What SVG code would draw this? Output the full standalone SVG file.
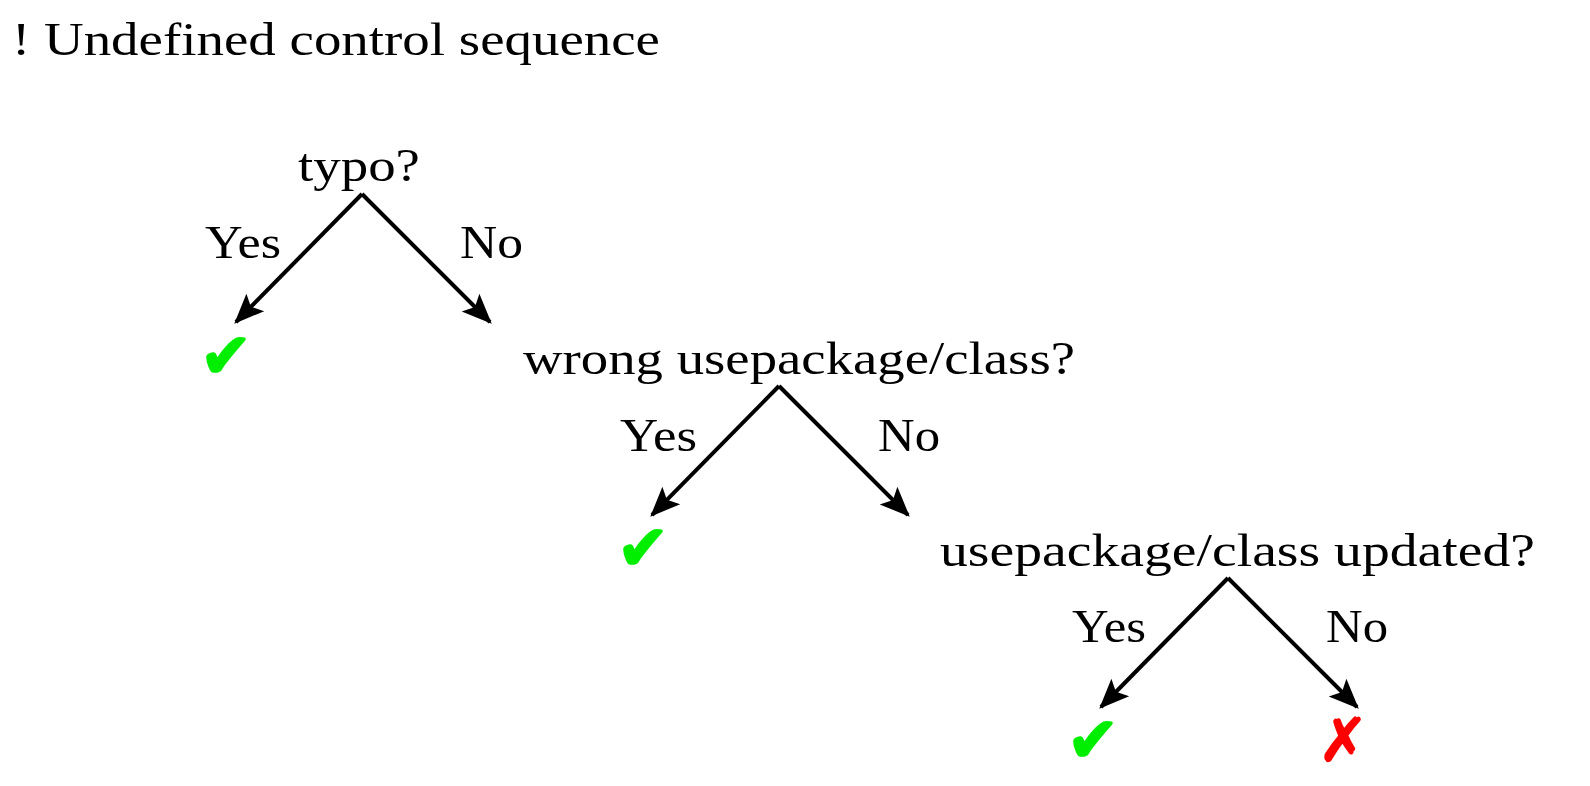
<svg xmlns="http://www.w3.org/2000/svg" width="1590" height="786" viewBox="0 0 1590 786">
<style>
text{font-family:"Liberation Serif","DejaVu Serif",serif;font-size:46px;fill:#000}
.ok{font-family:"DejaVu Sans",sans-serif;font-size:62px;fill:#00ee00;stroke:#00ee00;stroke-width:2}
.no{font-family:"DejaVu Sans",sans-serif;font-size:60px;fill:#ff0000;stroke:#ff0000;stroke-width:1.5}
line{stroke:#000;stroke-width:4;marker-end:url(#ah)}
</style>
<defs>
<marker id="ah" markerUnits="userSpaceOnUse" markerWidth="30" markerHeight="30" refX="22" refY="10" orient="auto" viewBox="0 0 24 20">
<path d="M24,10 L0,0 L5,10 L0,20 Z" fill="#000"/>
</marker>
</defs>
<rect width="1590" height="786" fill="#fff"/>
<text x="12" y="55" textLength="648" lengthAdjust="spacingAndGlyphs">! Undefined control sequence</text>
<g id="q1"><text x="298" y="181" textLength="122" lengthAdjust="spacingAndGlyphs">typo?</text></g>
<g id="q2"><text x="523" y="374" textLength="552" lengthAdjust="spacingAndGlyphs">wrong usepackage/class?</text></g>
<g id="q3"><text x="940" y="566" textLength="595" lengthAdjust="spacingAndGlyphs">usepackage/class updated?</text></g>
<g id="r1"><text class="ok" x="200" y="377">✔</text></g>
<g id="r2"><text class="ok" x="617" y="569">✔</text></g>
<g id="r3"><text class="ok" x="1067" y="761">✔</text></g>
<g id="r4"><text class="no" x="1318" y="761">✗</text></g>
<g id="connectors">
<line x1="362" y1="194" x2="236" y2="322"/>
<line x1="362" y1="194" x2="490" y2="322"/>
<line x1="779" y1="386" x2="652" y2="515"/>
<line x1="779" y1="386" x2="908" y2="515"/>
<line x1="1228" y1="578" x2="1101" y2="707"/>
<line x1="1228" y1="578" x2="1357" y2="707"/>
<text x="205" y="258" textLength="76" lengthAdjust="spacingAndGlyphs">Yes</text>
<text x="460" y="258" textLength="63" lengthAdjust="spacingAndGlyphs">No</text>
<text x="620" y="451" textLength="77" lengthAdjust="spacingAndGlyphs">Yes</text>
<text x="878" y="451" textLength="62" lengthAdjust="spacingAndGlyphs">No</text>
<text x="1072" y="642" textLength="74" lengthAdjust="spacingAndGlyphs">Yes</text>
<text x="1326" y="642" textLength="62" lengthAdjust="spacingAndGlyphs">No</text>
</g>
</svg>
